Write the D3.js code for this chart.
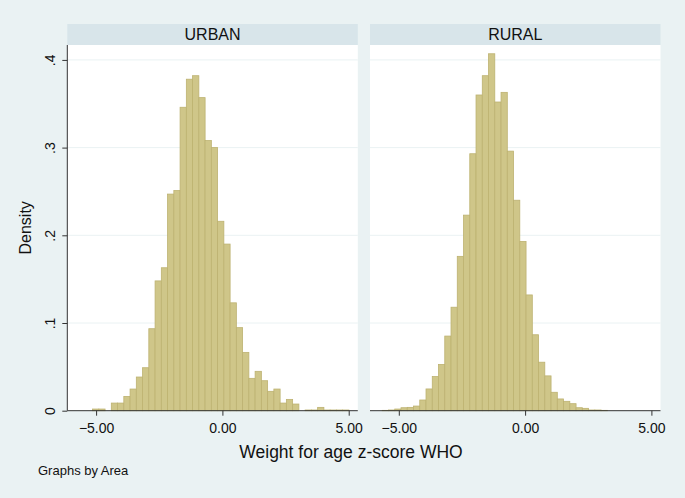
<!DOCTYPE html>
<html lang="en">
<head>
    <meta charset="UTF-8">
    <title>Weight for age z-score by area</title>
    <script src="https://d3js.org/d3.v7.min.js"></script>
    <style>
        body { margin: 0; background: #eaf2f3; }
        text { font-family: "Liberation Sans", Arial, sans-serif; fill: #111; }
        .grid line { stroke: #eaf2f3; stroke-width: 1px; }
        .bar { fill: #cfc689; stroke: #bdb271; stroke-width: 0.8px; }
    </style>
</head>
<body>
<div id="chart"></div>
<script>
    // Panel names and histogram data (density per bin)
    const panels = ["URBAN", "RURAL"];
    const binWidth = 0.2475;
    const binStarts = [-5.14, -5.655];

    const urbanDensity = [
        0.0019, 0.0019, 0, 0.0087, 0.0087, 0.0163, 0.0247, 0.0384, 0.049, 0.0935,
        0.148, 0.163, 0.247, 0.251, 0.346, 0.378, 0.382, 0.357, 0.308, 0.300,
        0.216, 0.190, 0.123, 0.0947, 0.0665, 0.0369, 0.0449, 0.0342, 0.0221, 0.0247,
        0.0087, 0.0129, 0.0076, 0, 0.0008, 0.0008, 0.0038, 0.0008, 0.0008, 0.0008,
        0.0008
    ];
    const ruralDensity = [
        0.0004, 0.0008, 0.0019, 0.0034, 0.0038, 0.0053, 0.0122, 0.0248, 0.0389, 0.0527,
        0.0851, 0.118, 0.176, 0.223, 0.293, 0.360, 0.382, 0.407, 0.352, 0.363,
        0.296, 0.240, 0.193, 0.132, 0.0866, 0.0553, 0.0397, 0.021, 0.0134, 0.0107,
        0.008, 0.0034, 0.0027, 0.0008, 0.0008, 0.0004
    ];
    const densities = [urbanDensity, ruralDensity];

    const xTicks = [-5, 0, 5];
    const yTicks = [0, 0.1, 0.2, 0.3, 0.4];
    const yTickLabels = ["0", ".1", ".2", ".3", ".4"];

    // Layout
    const width = 685, height = 498;
    const panelLeft = [67.3, 370];
    const panelW = 290.5;
    const plotTop = 45, plotBottom = 410.7, headerTop = 24;

    const svg = d3.select("#chart").append("svg")
        .attr("width", width)
        .attr("height", height);

    svg.append("rect").attr("width", width).attr("height", height).attr("fill", "#eaf2f3");

    const y = d3.scaleLinear().domain([0, 0.417]).range([plotBottom, plotTop]);

    panels.forEach((name, p) => {
        const x = d3.scaleLinear()
            .domain([-6.14, 5.36])
            .range([panelLeft[p], panelLeft[p] + panelW]);

        const g = svg.append("g");

        // header band
        g.append("rect")
            .attr("x", panelLeft[p]).attr("y", headerTop)
            .attr("width", panelW).attr("height", plotTop - headerTop)
            .attr("fill", "#d8e5ea");
        g.append("text")
            .attr("x", panelLeft[p] + panelW / 2).attr("y", 40)
            .attr("text-anchor", "middle")
            .style("font-size", "16px")
            .text(name);

        // plot area
        g.append("rect")
            .attr("x", panelLeft[p]).attr("y", plotTop)
            .attr("width", panelW).attr("height", plotBottom - plotTop)
            .attr("fill", "#fff");

        // gridlines
        g.append("g").attr("class", "grid")
            .selectAll("line")
            .data(yTicks.slice(1))
            .enter().append("line")
            .attr("x1", panelLeft[p]).attr("x2", panelLeft[p] + panelW)
            .attr("y1", d => y(d)).attr("y2", d => y(d));

        // bars
        const bins = densities[p].map((d, i) => ({
            x0: binStarts[p] + i * binWidth,
            x1: binStarts[p] + (i + 1) * binWidth,
            d: d
        })).filter(b => b.d > 0);

        g.append("g").selectAll("rect")
            .data(bins)
            .enter().append("rect")
            .attr("class", "bar")
            .attr("x", b => x(b.x0))
            .attr("width", b => x(b.x1) - x(b.x0))
            .attr("y", b => y(b.d))
            .attr("height", b => y(0) - y(b.d));

        // x axis
        const xAxis = g.append("g")
            .attr("transform", `translate(0,${plotBottom})`)
            .call(d3.axisBottom(x).tickValues(xTicks).tickSize(5).tickSizeOuter(0)
                .tickFormat(d3.format(".2f")));
        xAxis.select(".domain").attr("stroke", "#333")
            .attr("d", `M${panelLeft[p]},0H${panelLeft[p] + panelW}`);
        xAxis.selectAll(".tick line").attr("stroke", "#333");
        xAxis.selectAll(".tick text")
            .attr("y", 22)
            .attr("dy", 0)
            .style("font-size", "14px")
            .style("font-family", "Liberation Sans, Arial, sans-serif")
            .attr("fill", "#111");

        // y axis only on the first panel
        if (p === 0) {
            const yAxis = g.append("g")
                .attr("transform", `translate(${panelLeft[p]},0)`)
                .call(d3.axisLeft(y).tickValues(yTicks).tickSize(5).tickSizeOuter(0)
                    .tickFormat((d, i) => yTickLabels[i]));
            yAxis.select(".domain").attr("stroke", "#333")
                .attr("d", `M0,${plotBottom}V${plotTop}`);
            yAxis.selectAll(".tick line").attr("stroke", "#333");
            yAxis.selectAll(".tick text")
                .attr("x", null).attr("dy", null)
                .attr("text-anchor", "middle")
                .attr("transform", "translate(-12,0) rotate(-90)")
                .style("font-size", "14px")
                .style("font-family", "Liberation Sans, Arial, sans-serif")
                .attr("fill", "#111");
        }
    });

    // axis titles and note
    svg.append("text")
        .attr("transform", `translate(31,${(plotTop + plotBottom) / 2}) rotate(-90)`)
        .attr("text-anchor", "middle")
        .style("font-size", "16px")
        .text("Density");

    svg.append("text")
        .attr("x", 351).attr("y", 458)
        .attr("text-anchor", "middle")
        .style("font-size", "17.5px")
        .text("Weight for age z-score WHO");

    svg.append("text")
        .attr("x", 38).attr("y", 475)
        .style("font-size", "13px")
        .text("Graphs by Area");
</script>
</body>
</html>
